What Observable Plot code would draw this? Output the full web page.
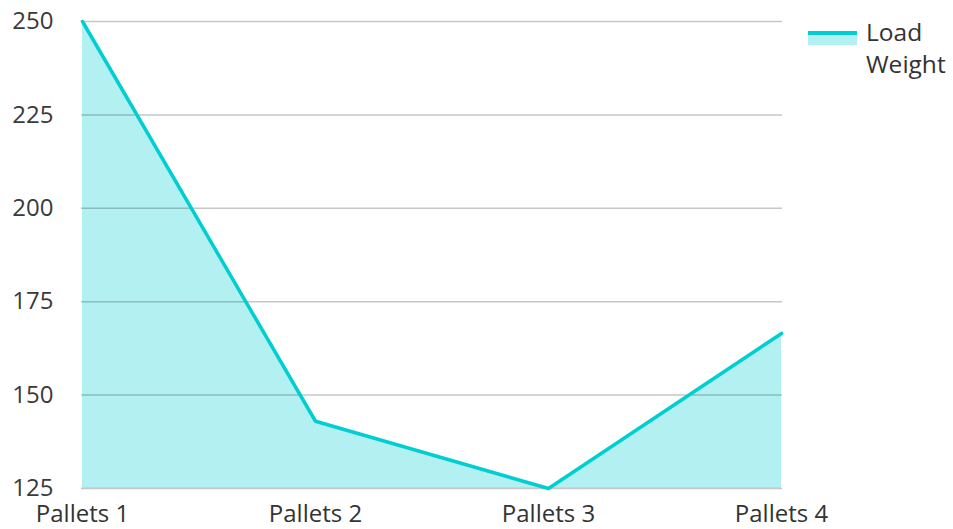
<!DOCTYPE html>
<html>
<head>
<meta charset="utf-8">
<script src="https://cdn.jsdelivr.net/npm/d3@7"></script>
<script src="https://cdn.jsdelivr.net/npm/@observablehq/plot@0.6"></script>
<style>
  html, body { margin: 0; padding: 0; background: #fff; }
  body { width: 953px; height: 529px; position: relative; font-family: "Open Sans", sans-serif; }
  #legend { position: absolute; left: 808px; top: 16px; display: flex; align-items: flex-start; }
  #legend .sw { width: 49px; height: 14px; margin-top: 15px; position: relative; }
  #legend .sw .fill { position: absolute; left: 0; top: 2px; width: 49px; height: 12px; background: rgba(0,206,209,0.3); }
  #legend .sw .ln { position: absolute; left: 0; top: 0; width: 49px; height: 4px; background: #00ced1; }
  #legend .lbl { margin-left: 9px; font-size: 24.5px; line-height: 32px; color: #333; }
</style>
</head>
<body>
<div id="chart"></div>
<div id="legend"><div class="sw"><div class="fill"></div><div class="ln"></div></div><div class="lbl">Load<br>Weight</div></div>
<script>
const categories = ["Pallets 1", "Pallets 2", "Pallets 3", "Pallets 4"];
const loadWeight = [250, 143, 125, 166.5];
const yTicks = [125, 150, 175, 200, 225, 250];
const seriesName = "Load Weight";
const color = "#00ced1";

const data = categories.map((c, i) => ({category: c, value: loadWeight[i]}));

const chart = Plot.plot({
  width: 953,
  height: 529,
  marginLeft: 81,
  marginRight: 171,
  marginTop: 21,
  marginBottom: 41,
  style: {fontFamily: "'Open Sans', sans-serif", fontSize: "24px", color: "#333", background: "#fff"},
  x: {type: "point", domain: categories, padding: 0, label: null},
  y: {domain: [yTicks[0], yTicks[yTicks.length - 1]], ticks: yTicks, label: null},
  marks: [
    Plot.areaY(data, {x: "category", y1: yTicks[0], y2: "value", fill: color, fillOpacity: 0.3}),
    Plot.gridY(yTicks, {stroke: "#000", strokeOpacity: 0.22, strokeWidth: 1.5}),
    Plot.lineY(data, {x: "category", y: "value", stroke: color, strokeWidth: 3.5}),
    Plot.axisY(yTicks, {tickSize: 0, tickPadding: 28, fill: "#3a3a3a", label: null}),
    Plot.axisX({tickSize: 0, tickPadding: 16, fill: "#333", label: null})
  ]
});
document.getElementById("chart").appendChild(chart);
</script>
</body>
</html>
